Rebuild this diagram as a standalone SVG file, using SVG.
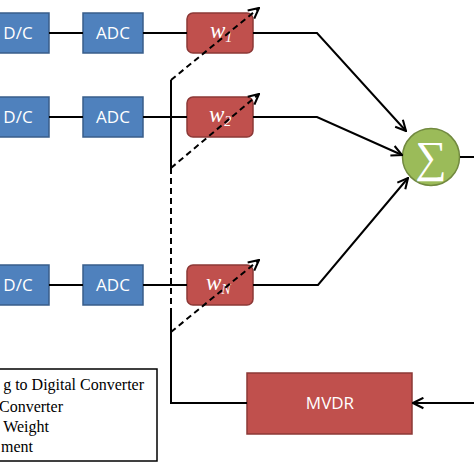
<svg xmlns="http://www.w3.org/2000/svg" width="474" height="474" viewBox="0 0 474 474">
<style>
.blue{fill:#4F81BD;stroke:#385D8A;stroke-width:1.5}
.red{fill:#C0504D;stroke:#8C3836;stroke-width:1.5}
.lbl{font-family:"Open Sans","Liberation Sans",sans-serif;font-size:17px;fill:#fff;text-anchor:middle}
.w{font-family:"Liberation Serif",serif;font-style:italic;fill:#fff}
.ln{fill:none;stroke:#000;stroke-width:2}
.ar{marker-end:url(#arr)}
.dash{stroke-dasharray:6 4}
.leg{font-family:"Liberation Serif",serif;font-size:16px;fill:#000;text-anchor:end}
</style>
<defs>
<marker id="arr" viewBox="0 0 10 10" refX="9" refY="5" markerWidth="6.5" markerHeight="6.5" orient="auto" markerUnits="strokeWidth">
<path d="M1,1 L9,5 L1,9" fill="none" stroke="#000" stroke-width="1.6"/>
</marker>
</defs>
<rect width="474" height="474" fill="#fff"/>
<g id="dc1"><rect class="blue" x="-13" y="13" width="62" height="40"/><text class="lbl" x="18" y="39">D/C</text></g>
<g id="dc2"><rect class="blue" x="-13" y="97" width="62" height="40"/><text class="lbl" x="18" y="123">D/C</text></g>
<g id="dcN"><rect class="blue" x="-13" y="265" width="62" height="40"/><text class="lbl" x="18" y="291">D/C</text></g>
<g id="adc1"><rect class="blue" x="83" y="13" width="60" height="40"/><text class="lbl" x="113" y="39">ADC</text></g>
<g id="adc2"><rect class="blue" x="83" y="97" width="60" height="40"/><text class="lbl" x="113" y="123">ADC</text></g>
<g id="adcN"><rect class="blue" x="83" y="265" width="60" height="40"/><text class="lbl" x="113" y="291">ADC</text></g>
<g id="w1"><rect class="red" x="187" y="13" width="66" height="40" rx="6"/><text class="w" x="210" y="38" font-size="23">w<tspan font-size="14" dy="4">1</tspan></text></g>
<g id="w2"><rect class="red" x="187" y="97" width="66" height="40" rx="6"/><text class="w" x="209" y="122" font-size="23">w<tspan font-size="14" dy="4">2</tspan></text></g>
<g id="wN"><rect class="red" x="187" y="265" width="66" height="40" rx="6"/><text class="w" x="206" y="290" font-size="23">w<tspan font-size="14" dy="4">N</tspan></text></g>
<g id="sum"><circle cx="431" cy="157" r="28.5" fill="#9BBB59" stroke="#71893F" stroke-width="1.5"/><text x="431" y="172" font-family="Liberation Serif,serif" font-size="44" fill="#fff" text-anchor="middle">∑</text></g>
<g id="mvdr"><rect class="red" x="247" y="373" width="165" height="61"/><text class="lbl" x="330" y="409">MVDR</text></g>
<g id="legend">
<rect x="-10" y="369" width="167" height="92" fill="#fff" stroke="#000" stroke-width="1.5"/>
<text class="leg" x="144" y="390">g to Digital Converter</text>
<text class="leg" x="63" y="412">Converter</text>
<text class="leg" x="49" y="432">Weight</text>
<text class="leg" x="33" y="452">ment</text>
</g>
<g id="connectors">
<path class="ln" d="M49,33 H83 M143,33 H187 M49,117 H83 M143,117 H187 M49,285 H83 M143,285 H187"/>
<path class="ln ar" d="M253,33 H317 L406,131"/>
<path class="ln ar" d="M253,117 H317 L402,155"/>
<path class="ln ar" d="M253,285 H318 L408,178"/>
<path class="ln" d="M460,157 H474"/>
<path class="ln ar" d="M474,403 H413"/>
<path class="ln" d="M171,80 V168"/>
<path class="ln dash" d="M171,168 V312"/>
<path class="ln" d="M171,312 V403 H247"/>
<path class="ln dash ar" d="M171,80 L259,8"/>
<path class="ln dash ar" d="M171,168 L259,94"/>
<path class="ln dash ar" d="M171,332 L259,260"/>
</g>
</svg>
